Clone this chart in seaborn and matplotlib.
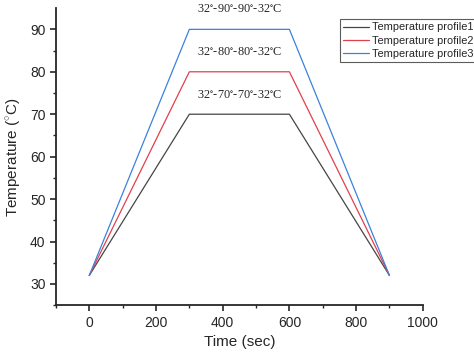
import matplotlib
matplotlib.use('Agg')
import matplotlib.pyplot as plt
import pandas as pd
import numpy as np
import seaborn as sns

# time points of each profile (sec)
time = [0, 300, 600, 900]
profile1 = [32, 70, 70, 32]
profile2 = [32, 80, 80, 32]
profile3 = [32, 90, 90, 32]
labels = ['Temperature profile1', 'Temperature profile2', 'Temperature profile3']
notes = ['32$^{\\circ}$-70$^{\\circ}$-70$^{\\circ}$-32$^{\\circ}$C',
         '32$^{\\circ}$-80$^{\\circ}$-80$^{\\circ}$-32$^{\\circ}$C',
         '32$^{\\circ}$-90$^{\\circ}$-90$^{\\circ}$-32$^{\\circ}$C']
note_y = [74.5, 84.6, 94.7]
colors = ['#454545', '#e2404c', '#3b82dc']

df = pd.DataFrame({
    'Time (sec)': time * 3,
    'Temperature': profile1 + profile2 + profile3,
    'Profile': [labels[0]] * 4 + [labels[1]] * 4 + [labels[2]] * 4,
})

sns.set_style('ticks')
plt.rcParams['font.family'] = ['Liberation Sans', 'DejaVu Sans']
plt.rcParams['mathtext.fontset'] = 'custom'
plt.rcParams['mathtext.rm'] = 'Liberation Sans'

fig = plt.figure(figsize=(4.74, 3.54), dpi=100)
ax = fig.add_axes([0.118, 0.138, 0.774, 0.839])

sns.lineplot(data=df, x='Time (sec)', y='Temperature', hue='Profile',
             palette=colors, linewidth=0.9, ax=ax, legend=True)

for t, yv in zip(notes, note_y):
    ax.text(450, yv, t, ha='center', va='center', fontsize=8.8,
            family=['Liberation Serif'], math_fontfamily='stix')

ax.set_xlim(-100, 1000)
ax.set_ylim(25, 95)
ax.set_xticks([0, 200, 400, 600, 800, 1000])
ax.set_xticks(np.arange(-100, 1000, 100), minor=True)
ax.set_yticks([30, 40, 50, 60, 70, 80, 90])
ax.set_yticks(np.arange(25, 95, 5), minor=True)
ax.tick_params(axis='both', which='major', direction='out', length=4, width=1.2, labelsize=10)
ax.tick_params(axis='both', which='minor', direction='out', length=2.5, width=1.0)
for s in ['left', 'bottom']:
    ax.spines[s].set_linewidth(1.3)
sns.despine(ax=ax)

ax.set_xlabel('Time (sec)', fontsize=11, labelpad=4)
ax.set_ylabel('Temperature ($^{\\circ}$C)', fontsize=11, labelpad=5)

leg = ax.legend(loc='upper left', bbox_to_anchor=(0.717, 0.946),
                bbox_transform=fig.transFigure, fontsize=7.9, frameon=True,
                fancybox=False, edgecolor='#333333', handlelength=2.4,
                handletextpad=0.2, borderpad=0.3, labelspacing=0.3,
                borderaxespad=0)
leg.get_frame().set_linewidth(0.8)

fig.savefig('out.png', dpi=100)
